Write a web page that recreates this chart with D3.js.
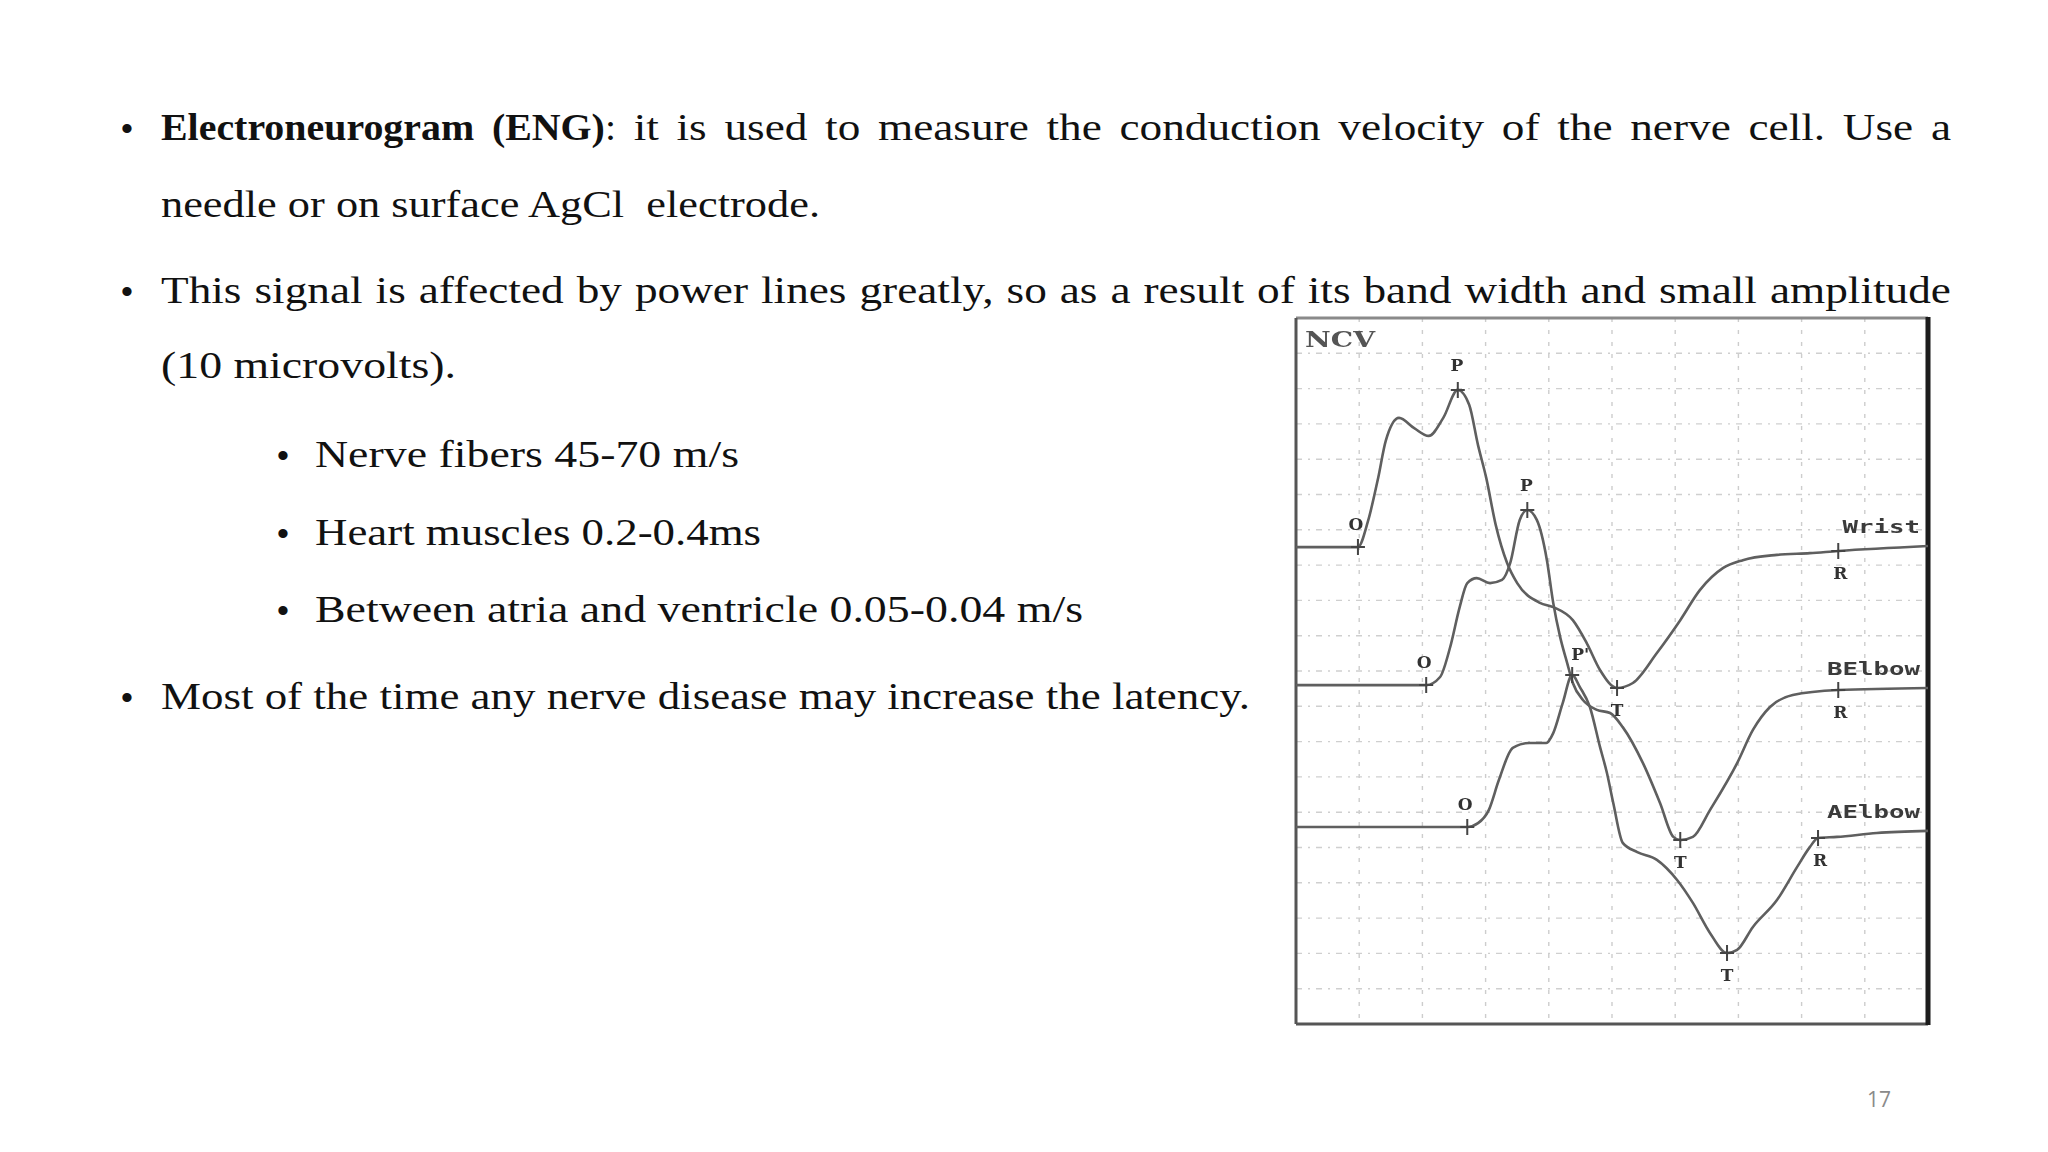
<!DOCTYPE html>
<html>
<head>
<meta charset="utf-8">
<script src="https://cdn.jsdelivr.net/npm/d3@7"></script>
<style>
  html, body { margin: 0; padding: 0; background: #fff; overflow: hidden; }
</style>
</head>
<body>
<svg id="slide"></svg>
<script>
// Slide 17 — ENG text on the left, NCV trace panel on the right.
// Trace values are in grid divisions: x 0..10 across, y 0..20 up.

// ---- text content ----
const line1Words = [
  [["Electroneurogram", 1]], [["(ENG)", 1], [":", 0]],
  "it", "is", "used", "to", "measure", "the", "conduction", "velocity",
  "of", "the", "nerve", "cell.", "Use", "a"
];
const line3Words = ("This signal is affected by power lines greatly, so as a result " +
  "of its band width and small amplitude").split(" ");
const plainLines = [
  "needle or on surface AgCl  electrode.",
  "(10 microvolts).",
  "Nerve fibers 45-70 m/s",
  "Heart muscles 0.2-0.4ms",
  "Between atria and ventricle 0.05-0.04 m/s",
  "Most of the time any nerve disease may increase the latency."
];
const pageNumber = "17";

// ---- NCV traces ----
const traceNames = ["Wrist", "BElbow", "AElbow"];

const wristX = [0, 0.98, 1.14, 1.30, 1.42, 1.63, 1.87, 2.10, 2.33, 2.56, 2.74, 2.88, 3.01, 3.16,
  3.34, 3.50, 3.86, 4.07, 4.38, 4.60, 4.81, 5.08, 5.33, 5.71, 6.08, 6.39, 6.76, 7.07, 7.61, 8.13, 8.58, 10];
const wristY = [13.51, 13.51, 14.25, 15.47, 16.52, 17.17, 16.88, 16.66, 17.17, 17.96, 17.54, 16.40, 15.47, 14.14,
  13.06, 12.49, 11.93, 11.81, 11.44, 10.79, 10.03, 9.52, 9.66, 10.51, 11.44, 12.29, 12.92, 13.14, 13.29, 13.34, 13.40, 13.54];

const bElbowX = [0, 2.06, 2.28, 2.44, 2.59, 2.71, 2.86, 3.07, 3.26, 3.39, 3.54, 3.66, 3.81, 3.97, 4.07,
  4.18, 4.29, 4.38, 4.54, 4.76, 4.97, 5.17, 5.49, 5.76, 5.97, 6.08, 6.28, 6.55, 6.98, 7.23, 7.50, 7.86, 8.58, 10];
const bElbowY = [9.60, 9.60, 9.83, 10.68, 11.81, 12.49, 12.63, 12.49, 12.58, 13.06, 14.28, 14.56, 14.28, 13.14, 11.93,
  10.96, 10.23, 9.66, 9.18, 8.90, 8.81, 8.41, 7.39, 6.26, 5.30, 5.21, 5.30, 6.06, 7.39, 8.33, 8.98, 9.32, 9.46, 9.52];

const aElbowX = [0, 2.71, 2.88, 3.05, 3.21, 3.43, 3.69, 3.96, 4.07, 4.22, 4.37, 4.49, 4.65, 4.81, 4.92,
  5.02, 5.17, 5.40, 5.71, 6.03, 6.28, 6.55, 6.82, 6.98, 7.23, 7.61, 7.93, 8.13, 8.26, 8.56, 9.19, 10];
const aElbowY = [5.58, 5.58, 5.69, 6.06, 6.91, 7.82, 7.96, 7.96, 8.24, 9.09, 9.89, 9.55, 8.98, 7.85, 7.11,
  6.26, 5.13, 4.87, 4.65, 4.08, 3.43, 2.58, 2.01, 2.10, 2.75, 3.51, 4.45, 5.01, 5.27, 5.30, 5.41, 5.47];

// cursor marks: [label, x, y]
const wristMarks  = [["O", 0.98, 13.51], ["P", 2.56, 17.96], ["T", 5.08, 9.52], ["R", 8.58, 13.40]];
const bElbowMarks = [["O", 2.06, 9.60], ["P", 3.66, 14.56], ["T", 6.08, 5.21], ["R", 8.58, 9.46]];
const aElbowMarks = [["O", 2.71, 5.58], ["P'", 4.37, 9.89], ["T", 6.82, 2.01], ["R", 8.26, 5.27]];

(function () {
  const W = 2048, H = 1152;
  const INK = "#111";
  const SERIF = "'Liberation Serif', 'Times New Roman', serif";
  const FS = 38;

  const svg = d3.select("#slide").attr("width", W).attr("height", H);
  svg.append("rect").attr("width", W).attr("height", H).attr("fill", "#fff");

  // ---------- body text ----------
  const plainLayout = [
    { x: 161, y: 217, w: 659 },
    { x: 161, y: 378, w: 295 },
    { x: 315, y: 467, w: 424 },
    { x: 315, y: 545, w: 446 },
    { x: 315, y: 622, w: 768 },
    { x: 161, y: 709, w: 1089 }
  ];

  let ratioSum = 0;
  plainLines.forEach((str, i) => {
    const L = plainLayout[i];
    const t = svg.append("text")
      .attr("x", L.x).attr("y", L.y)
      .attr("font-family", SERIF).attr("font-size", FS)
      .attr("fill", INK)
      .style("white-space", "pre")
      .text(str);
    const natural = t.node().getComputedTextLength();
    ratioSum += L.w / natural;
    t.attr("textLength", L.w).attr("lengthAdjust", "spacingAndGlyphs");
  });
  const WIDEN = ratioSum / plainLines.length;
  const BOLD_SCALE = 1.05;   // bold words get a little less stretch than regular ones

  // justified line: words stretched like the rest, gaps share the leftover room
  function justified(words, x, y, width) {
    const g = svg.append("g");
    const items = words.map(w => {
      const segs = typeof w === "string" ? [[w, 0]] : w;
      const t = g.append("text")
        .attr("font-family", SERIF).attr("font-size", FS).attr("fill", INK);
      segs.forEach(s => t.append("tspan").attr("font-weight", s[1] ? 700 : 400).text(s[0]));
      const k = segs[0][1] ? BOLD_SCALE : WIDEN;
      return { t, k, w: t.node().getComputedTextLength() * k };
    });
    const gap = (width - d3.sum(items, d => d.w)) / (items.length - 1);
    let cx = x;
    items.forEach(d => {
      d.t.attr("transform", `translate(${cx},${y}) scale(${d.k},1)`);
      cx += d.w + gap;
    });
  }
  justified(line1Words, 161, 140, 1790);
  justified(line3Words, 161, 303, 1790);

  // bullets
  [[121, 140], [121, 303], [277, 467], [277, 545], [277, 622], [121, 709]].forEach(b => {
    svg.append("text")
      .attr("x", b[0]).attr("y", b[1])
      .attr("font-family", "'Liberation Sans', Arial, sans-serif")
      .attr("font-size", 34).attr("fill", INK)
      .text("\u2022");
  });

  // page number
  svg.append("text")
    .attr("x", 1879).attr("y", 1107)
    .attr("text-anchor", "middle")
    .attr("font-family", "'Open Sans', 'Liberation Sans', sans-serif")
    .attr("font-size", 21).attr("fill", "#8a8a8a")
    .text(pageNumber);

  // ---------- NCV panel ----------
  const box = { x0: 1296, x1: 1928, y0: 318, y1: 1024 };
  const x = d3.scaleLinear().domain([0, 10]).range([box.x0, box.x1]);
  const y = d3.scaleLinear().domain([0, 20]).range([box.y1, box.y0]);

  svg.append("defs").append("filter").attr("id", "soft")
    .append("feGaussianBlur").attr("stdDeviation", 0.6);

  const panel = svg.append("g").attr("filter", "url(#soft)");

  // dotted grid
  panel.append("g").selectAll("line")
    .data(x.ticks(10).filter(d => d > 0 && d < 10)).enter()
    .append("line")
    .attr("x1", d => x(d)).attr("x2", d => x(d))
    .attr("y1", box.y0).attr("y2", box.y1)
    .attr("stroke", "#cdcdcd").attr("stroke-width", 1.4)
    .attr("stroke-dasharray", "4 8");
  panel.append("g").selectAll("line")
    .data(y.ticks(20).filter(d => d > 0 && d < 20)).enter()
    .append("line")
    .attr("x1", box.x0).attr("x2", box.x1)
    .attr("y1", d => y(d)).attr("y2", d => y(d))
    .attr("stroke", "#cfcfcf").attr("stroke-width", 1.4)
    .attr("stroke-dasharray", "6 6 2 6");

  // frame — top edge lighter, right edge heavy like the scan
  panel.append("line").attr("x1", box.x0).attr("x2", box.x1).attr("y1", box.y0).attr("y2", box.y0)
    .attr("stroke", "#8a8a8a").attr("stroke-width", 3);
  panel.append("line").attr("x1", box.x0).attr("x2", box.x0).attr("y1", box.y0).attr("y2", box.y1)
    .attr("stroke", "#555").attr("stroke-width", 3);
  panel.append("line").attr("x1", box.x0).attr("x2", box.x1).attr("y1", box.y1).attr("y2", box.y1)
    .attr("stroke", "#555").attr("stroke-width", 3);
  panel.append("line").attr("x1", box.x1).attr("x2", box.x1).attr("y1", box.y0 - 1).attr("y2", box.y1 + 1)
    .attr("stroke", "#1a1a1a").attr("stroke-width", 5);

  panel.append("text")
    .attr("x", 1305).attr("y", 347)
    .attr("font-family", "'DejaVu Serif', serif")
    .attr("font-weight", 700).attr("font-size", 23)
    .attr("fill", "#555")
    .attr("textLength", 70).attr("lengthAdjust", "spacingAndGlyphs")
    .text("NCV");

  const line = d3.line()
    .x(d => x(d[0])).y(d => y(d[1]))
    .curve(d3.curveMonotoneX);

  const traces = [
    { name: traceNames[0], xs: wristX,  ys: wristY,  marks: wristMarks },
    { name: traceNames[1], xs: bElbowX, ys: bElbowY, marks: bElbowMarks },
    { name: traceNames[2], xs: aElbowX, ys: aElbowY, marks: aElbowMarks }
  ];

  const LETTER = "'DejaVu Serif', serif";
  const MONO = "'DejaVu Sans Mono', monospace";
  const labelOffset = { "O": [-2, -17], "P": [-1, -19], "P'": [8, -15], "T": [0, 28], "R": [2, 28] };

  traces.forEach(tr => {
    const pts = tr.xs.map((v, i) => [v, tr.ys[i]]);
    panel.append("path")
      .attr("d", line(pts))
      .attr("fill", "none")
      .attr("stroke", "#5e5e5e")
      .attr("stroke-width", 2.6)
      .attr("stroke-linejoin", "round");

    // cursor crosses and their letters
    tr.marks.forEach(m => {
      const mx = x(m[1]), my = y(m[2]);
      panel.append("path")
        .attr("d", `M${mx - 7},${my}H${mx + 7}M${mx},${my - 8}V${my + 8}`)
        .attr("stroke", "#444").attr("stroke-width", 2);
      const off = labelOffset[m[0]];
      panel.append("text")
        .attr("x", mx + off[0]).attr("y", my + off[1])
        .attr("text-anchor", "middle")
        .attr("font-family", LETTER).attr("font-weight", 700)
        .attr("font-size", 17).attr("fill", "#333")
        .text(m[0]);
    });

    // trace name, right-aligned above the trace end
    const endY = y(tr.ys[tr.ys.length - 1]);
    panel.append("text")
      .attr("x", box.x1 - 8 - tr.name.length * 15.5).attr("y", endY - 13)
      .attr("font-family", MONO).attr("font-weight", 700)
      .attr("font-size", 17).attr("fill", "#3a3a3a")
      .attr("textLength", tr.name.length * 15.5).attr("lengthAdjust", "spacingAndGlyphs")
      .text(tr.name);
  });
})();
</script>
</body>
</html>
